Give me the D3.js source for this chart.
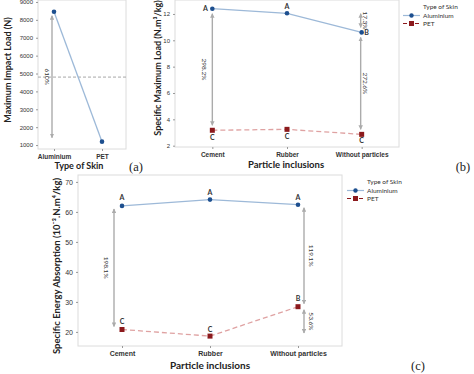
<!DOCTYPE html>
<html>
<head>
<meta charset="utf-8">
<script src="https://cdn.jsdelivr.net/npm/d3@7"></script>
<style>
  body { margin: 0; background: #fff; }
  svg { display: block; font-family: Lato, "Open Sans", sans-serif; }
  .tick text { fill: #333; }
</style>
</head>
<body>
<svg id="chart" width="474" height="374"></svg>
<script>
// (a) maximum impact load by skin
const skinTypes = ["Aluminium", "PET"];
const impactLoad = [8450, 1190];
const impactMean = 4800;
const impactTicks = [1000, 2000, 3000, 4000, 5000, 6000, 7000, 8000, 9000];

// (b) + (c) by particle inclusion
const inclusions = ["Cement", "Rubber", "Without particles"];
const specLoadAl = [12.4, 12.05, 10.6];
const specLoadPet = [3.17, 3.24, 2.86];
const specLoadAlGroups = ["A", "A", "B"];
const specLoadPetGroups = ["C", "C", "C"];
const specLoadTicks = [2, 4, 6, 8, 10, 12];

const energyAl = [62.0, 64.1, 62.4];
const energyPet = [20.8, 18.6, 28.4];
const energyAlGroups = ["A", "A", "A"];
const energyPetGroups = ["C", "C", "B"];
const energyTicks = [20, 30, 40, 50, 60, 70];

// percentage arrows: [category, from value, to value, label]
const impactArrows = [["Aluminium", 8450, 1190, "610%"]];
const specLoadArrows = [
  ["Cement", 12.4, 3.17, "298.2%"],
  ["Without particles", 12.4, 10.6, "17.3%"],
  ["Without particles", 10.6, 2.86, "272.6%"]
];
const energyArrows = [
  ["Cement", 62.0, 20.8, "198.1%"],
  ["Without particles", 62.4, 28.4, "119.1%"],
  ["Without particles", 28.4, 18.6, "53.6%"]
];

const legendItems = ["Aluminium", "PET"];

const alDot = "#1d4f8f", alLine = "#9db9d8";
const petDot = "#8c1a1d", petLine = "#dfa2a2";
const arrowCol = "#ababab", frameCol = "#dcdcdc";

const svg = d3.select("#chart");

const defs = svg.append("defs");
defs.append("marker")
  .attr("id", "head")
  .attr("viewBox", "0 0 10 10")
  .attr("refX", 9).attr("refY", 5)
  .attr("markerWidth", 4.5).attr("markerHeight", 4.5)
  .attr("markerUnits", "userSpaceOnUse")
  .attr("orient", "auto-start-reverse")
  .append("path")
  .attr("d", "M0,0L10,5L0,10Z")
  .attr("fill", arrowCol);

function frame(x0, y0, x1, y1) {
  svg.append("rect")
    .attr("x", x0).attr("y", y0)
    .attr("width", x1 - x0).attr("height", y1 - y0)
    .attr("fill", "none").attr("stroke", frameCol).attr("stroke-width", 1);
}

function yAxis(y, x0, ticks, fmt, fs) {
  const g = svg.append("g")
    .attr("transform", `translate(${x0},0)`)
    .call(d3.axisLeft(y).tickValues(ticks).tickSize(2).tickPadding(3).tickFormat(fmt));
  g.select(".domain").remove();
  g.selectAll("line").attr("stroke", "#999");
  g.selectAll("text").style("font-size", fs + "px");
}

function xAxis(x, y0, fs) {
  const g = svg.append("g")
    .attr("transform", `translate(0,${y0})`)
    .call(d3.axisBottom(x).tickSize(2).tickPadding(3));
  g.select(".domain").remove();
  g.selectAll("line").attr("stroke", "#999");
  g.selectAll("text").style("font-size", fs + "px").style("font-weight", 700).attr("fill", "#333");
}

function label(x, y, t, fs, opts) {
  opts = opts || {};
  const el = svg.append("text")
    .attr("x", x).attr("y", y)
    .attr("text-anchor", opts.anchor || "middle")
    .attr("dy", "0.35em")
    .style("font-size", fs + "px")
    .attr("fill", opts.fill || "#222")
    .text(t);
  if (opts.rotate) el.attr("transform", `rotate(${opts.rotate},${x},${y})`);
  if (opts.family) el.style("font-family", opts.family);
  if (opts.weight) el.style("font-weight", opts.weight);
  return el;
}

function series(x, y, cats, vals, kind) {
  const pts = cats.map((c, i) => [x(c), y(vals[i])]);
  svg.append("path")
    .attr("d", d3.line()(pts))
    .attr("fill", "none")
    .attr("stroke", kind == "al" ? alLine : petLine)
    .attr("stroke-width", 1.3)
    .attr("stroke-dasharray", kind == "al" ? null : "5,3");
  if (kind == "al") {
    svg.append("g").selectAll("circle")
      .data(pts).join("circle")
      .attr("cx", d => d[0]).attr("cy", d => d[1])
      .attr("r", 2.3).attr("fill", alDot);
  } else {
    svg.append("g").selectAll("rect")
      .data(pts).join("rect")
      .attr("x", d => d[0] - 2.5).attr("y", d => d[1] - 2.5)
      .attr("width", 5).attr("height", 5).attr("fill", petDot);
  }
}

function arrows(x, y, list, dx, ldx, gap) {
  list.forEach(a => {
    const ax = x(a[0]) + (dx[a[0]] || 0);
    const y0 = y(a[1]), y1 = y(a[2]);
    const s = y1 > y0 ? 1 : -1;
    svg.append("line")
      .attr("x1", ax).attr("x2", ax)
      .attr("y1", y0 + s * gap).attr("y2", y1 - s * gap)
      .attr("stroke", arrowCol).attr("stroke-width", 1.4)
      .attr("marker-start", "url(#head)")
      .attr("marker-end", "url(#head)");
    label(ax + (ldx[a[0]] || 0), (y0 + y1) / 2, a[3], 6.5, { rotate: 90, fill: "#333" });
  });
}

function groups(x, y, cats, vals, letters, place) {
  cats.forEach((c, i) => {
    const p = place[i];
    label(x(c) + p[0], y(vals[i]) + p[1], letters[i], 7, { fill: "#333", weight: 700 });
  });
}

function legend(x0, y0) {
  label(x0 + 20, y0, "Type of Skin", 6.5, { anchor: "start", fill: "#333" });
  legendItems.forEach((name, i) => {
    const yy = y0 + 8.5 + i * 8;
    const al = i == 0;
    svg.append("line")
      .attr("x1", x0).attr("x2", x0 + 17)
      .attr("y1", yy).attr("y2", yy)
      .attr("stroke", al ? alLine : petDot).attr("stroke-width", 1.2)
      .attr("stroke-dasharray", al ? null : "4,2");
    if (al) svg.append("circle").attr("cx", x0 + 8.5).attr("cy", yy).attr("r", 2.2).attr("fill", alDot);
    else svg.append("rect").attr("x", x0 + 6).attr("y", yy - 2.5).attr("width", 5).attr("height", 5).attr("fill", petDot);
    label(x0 + 20, yy, name, 6.5, { anchor: "start", fill: "#333" });
  });
}

// ---------- (a) ----------
{
  const y = d3.scaleLinear().domain([780, 9110]).range([149, 0]);
  const x = d3.scalePoint().domain(skinTypes).range([54, 102]);
  frame(38, 0, 126, 149);
  svg.append("line")
    .attr("x1", 38).attr("x2", 126)
    .attr("y1", y(impactMean)).attr("y2", y(impactMean))
    .attr("stroke", "#a8a8a8").attr("stroke-dasharray", "3,2");
  yAxis(y, 38, impactTicks, d3.format("d"), 6);
  xAxis(x, 149, 6.5);
  arrows(x, y, impactArrows, { Aluminium: -2 }, { Aluminium: -5 }, 4);
  series(x, y, skinTypes, impactLoad, "al");
  label(8, 70, "Maximum Impact Load (N)", 9, { rotate: -90, weight: 700 });
  label(79, 166, "Type of Skin", 9, { weight: 700 });
  label(136, 167, "(a)", 12.5, { family: "Liberation Serif, serif" });
}

// ---------- (b) ----------
{
  const y = d3.scaleLinear().domain([1.9, 13.06]).range([147, 0]);
  const x = d3.scalePoint().domain(inclusions).range([175, 399]).padding(0.5);
  frame(175, 0, 399, 147);
  yAxis(y, 175, specLoadTicks, d3.format("d"), 6);
  xAxis(x, 147, 6.5);
  arrows(x, y, specLoadArrows, { "Without particles": -1 }, { Cement: -8, "Without particles": 5 }, 5);
  series(x, y, inclusions, specLoadAl, "al");
  series(x, y, inclusions, specLoadPet, "pet");
  groups(x, y, inclusions, specLoadAl, specLoadAlGroups, [[-7, 0], [0, -7], [5, 0]]);
  groups(x, y, inclusions, specLoadPet, specLoadPetGroups, [[0, 7], [0, 7], [0, 6]]);
  label(158, 68, "Specific Maximum Load (N.m³/kg)", 9, { rotate: -90, weight: 700 });
  label(286, 165, "Particle inclusions", 9.5, { weight: 700 });
  legend(403, 7);
  label(463, 167, "(b)", 12.5, { family: "Liberation Serif, serif" });
}

// ---------- (c) ----------
{
  const y = d3.scaleLinear().domain([15.3, 72.3]).range([346, 175]);
  const x = d3.scalePoint().domain(inclusions).range([78, 342]).padding(0.5);
  frame(78, 175, 342, 346);
  yAxis(y, 78, energyTicks, d3.format("d"), 7);
  xAxis(x, 346, 7);
  arrows(x, y, energyArrows, { Cement: -8, "Without particles": 6 }, { Cement: -8, "Without particles": 7 }, 3);
  series(x, y, inclusions, energyAl, "al");
  series(x, y, inclusions, energyPet, "pet");
  groups(x, y, inclusions, energyAl, energyAlGroups, [[0, -8], [0, -7], [0, -7]]);
  groups(x, y, inclusions, energyPet, energyPetGroups, [[0, -8], [0, -7], [0, -8]]);
  label(57, 266, "Specific Energy Absorption (10⁻³.N.m⁴/kg)", 9.5, { rotate: -90, weight: 700 });
  label(210, 365, "Particle inclusions", 10, { weight: 700 });
  legend(347, 182);
  label(418, 366, "(c)", 12.5, { family: "Liberation Serif, serif" });
}
</script>
</body>
</html>
